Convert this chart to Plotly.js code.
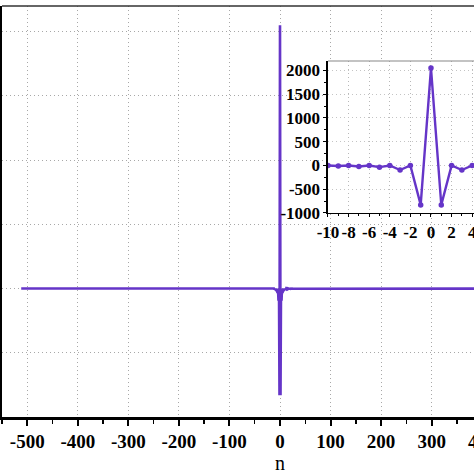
<!DOCTYPE html>
<html>
<head>
<meta charset="utf-8">
<script src="https://cdn.plot.ly/plotly-3.0.1.min.js"></script>
<style>
html,body{margin:0;padding:0;overflow:hidden;background:#fff;}
#chart{width:570px;height:474px;}
</style>
</head>
<body>
<div id="chart"></div>
<script>
// Sample index n (central part; signal is ~0 elsewhere out to +/-512)
const nStart = -512;
const nEnd = 512;
const nCenter = [-25,-24,-23,-22,-21,-20,-19,-18,-17,-16,-15,-14,-13,-12,-11,-10,-9,-8,-7,-6,-5,-4,-3,-2,-1,0,1,2,3,4,5,6,7,8,9,10,11,12,13,14,15,16,17,18,19,20,21,22,23,24,25];
const hCenter = [-1,0,-2,0,-2,0,-2,0,-3,0,-4,0,-5,0,-7,0,-12,0,-20,0,-35,0,-95,0,-830,2050,-830,0,-95,0,-35,0,-20,0,-12,0,-7,0,-5,0,-4,0,-3,0,-2,0,-2,0,-2,0,-1];

// Main x-axis ticks
const mainTickVals = [-500,-400,-300,-200,-100,0,100,200,300,400,500];
const mainTickText = ['-500','-400','-300','-200','-100','0','100','200','300','400','500'];
// Inset ticks
const insetXTickVals = [-10,-8,-6,-4,-2,0,2,4,6,8,10];
const insetXTickText = ['-10','-8','-6','-4','-2','0','2','4','6','8','10'];
const insetYTickVals = [-1000,-500,0,500,1000,1500,2000];
const insetYTickText = ['-1000','-500','0','500','1000','1500','2000'];

const purple = '#6535c8';
const serif = 'Liberation Serif, Times New Roman, serif';

const mainX = [nStart].concat(nCenter, [nEnd]);
const mainY = [0].concat(hCenter, [0]);

const traces = [
  {x: mainX, y: mainY, type: 'scatter', mode: 'lines',
   line: {color: purple, width: 2.6}, xaxis: 'x', yaxis: 'y', hoverinfo: 'skip'},
  {x: nCenter, y: hCenter, type: 'scatter', mode: 'lines+markers',
   line: {color: purple, width: 2.4}, marker: {color: purple, size: 5.5},
   xaxis: 'x2', yaxis: 'y2', cliponaxis: true, hoverinfo: 'skip'}
];

const gridDot = '1px,3px';

const layout = {
  width: 570, height: 474,
  margin: {l: 2, r: 12, t: 6, b: 57},
  paper_bgcolor: '#fff', plot_bgcolor: '#fff',
  showlegend: false,
  xaxis: {
    range: [-550, 550], domain: [0, 1], anchor: 'y',
    tickvals: mainTickVals, ticktext: mainTickText, tickangle: 0,
    tickfont: {family: serif, size: 19, color: '#000', weight: 'bold'},
    ticks: 'outside', ticklen: 6, tickwidth: 2, tickcolor: '#000',
    minor: {ticks: 'outside', dtick: 50, tick0: 0, ticklen: 4, tickwidth: 1.5, tickcolor: '#000', showgrid: false},
    showline: true, linecolor: '#000', linewidth: 2.5,
    showgrid: true, gridcolor: '#a8a8a8', gridwidth: 1, griddash: gridDot,
    zeroline: false,
    title: {text: 'n', font: {family: serif, size: 20, color: '#000'}, standoff: 0}
  },
  yaxis: {
    range: [-1000, 2200], domain: [0, 1], anchor: 'x',
    dtick: 500, tick0: 0,
    showticklabels: false, ticks: '',
    showline: true, linecolor: '#000', linewidth: 3,
    showgrid: true, gridcolor: '#a8a8a8', gridwidth: 1, griddash: gridDot,
    zeroline: false
  },
  xaxis2: {
    range: [-10, 10], domain: [0.5863, 0.9568], anchor: 'y2',
    tickvals: insetXTickVals, ticktext: insetXTickText, tickangle: 0,
    tickfont: {family: serif, size: 17, color: '#000', weight: 'bold'},
    ticks: 'outside', ticklen: 3, tickwidth: 1, tickcolor: '#000',
    minor: {ticks: 'outside', dtick: 1, tick0: 0, ticklen: 2, tickcolor: '#000', showgrid: false},
    showline: true, linecolor: '#000', linewidth: 1.5,
    showgrid: true, gridcolor: '#b8b8b8', gridwidth: 1, griddash: gridDot,
    zeroline: false
  },
  yaxis2: {
    range: [-1000, 2200], domain: [0.4964, 0.8662], anchor: 'x2',
    tickvals: insetYTickVals, ticktext: insetYTickText,
    tickfont: {family: serif, size: 17, color: '#000', weight: 'bold'},
    ticks: 'outside', ticklen: 3, tickwidth: 1, tickcolor: '#000',
    minor: {ticks: 'outside', dtick: 250, ticklen: 2, tickcolor: '#000', showgrid: false},
    showline: true, linecolor: '#000', linewidth: 1.5,
    showgrid: true, gridcolor: '#c4c4c4', gridwidth: 1, griddash: gridDot,
    zeroline: false
  },
  shapes: [
    {type: 'line', xref: 'paper', yref: 'paper', x0: 0, x1: 1, y0: 1, y1: 1,
     line: {color: '#333', width: 1.5}},
    {type: 'line', xref: 'paper', yref: 'paper', x0: 0.5863, x1: 0.9568, y0: 0.8662, y1: 0.8662,
     line: {color: '#888', width: 1.2}}
  ]
};

Plotly.newPlot('chart', traces, layout, {staticPlot: true, displayModeBar: false});
</script>
</body>
</html>
